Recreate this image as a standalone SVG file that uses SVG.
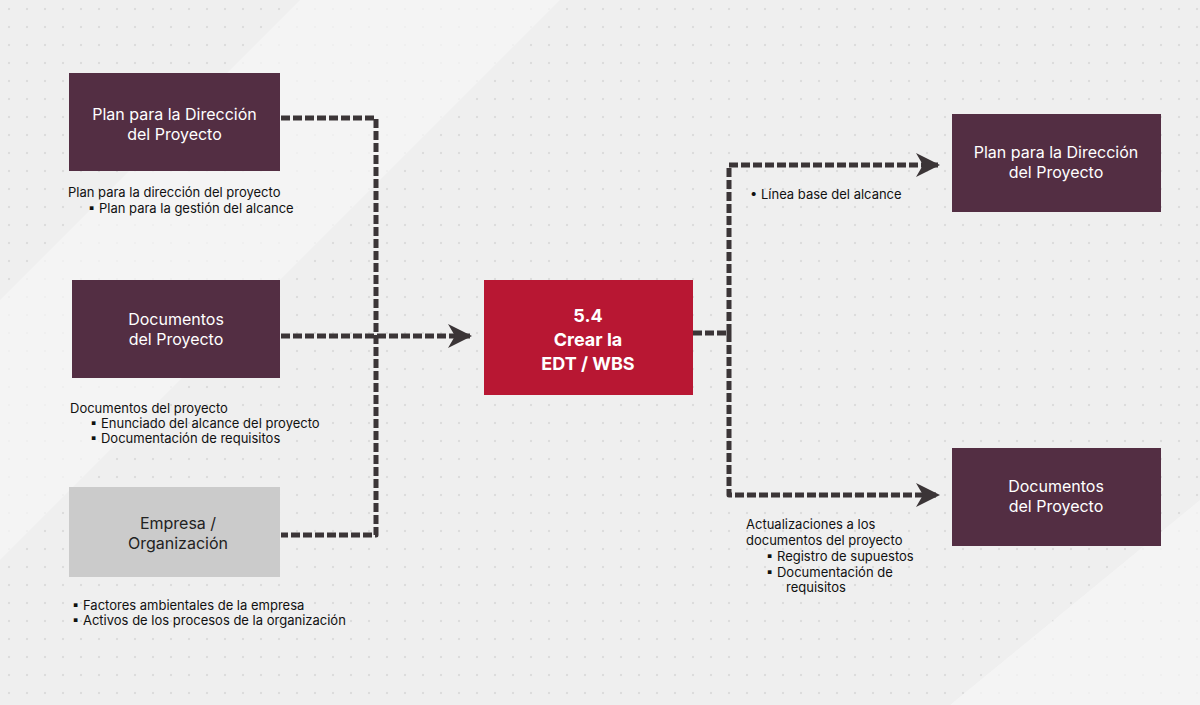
<svg xmlns="http://www.w3.org/2000/svg" width="1200" height="705" viewBox="0 0 1200 705">
<style>
.n{fill:#532e43}
.t{font-family:"Inter","Liberation Sans",sans-serif;fill:#fff;font-size:16px;text-anchor:middle}
.s{font-family:"Inter","Liberation Sans",sans-serif;fill:#111;font-size:13px}
.c{fill:none;stroke:#3b3537;stroke-width:5;stroke-dasharray:9 3;stroke-linejoin:round}
</style>
<defs>
<pattern id="dots" width="18" height="18" patternUnits="userSpaceOnUse"><circle cx="9" cy="9" r="1.2" fill="#dcdcdc"/></pattern>
<marker id="ah" markerWidth="10" markerHeight="10" refX="8" refY="5" orient="auto" markerUnits="userSpaceOnUse" viewBox="0 0 10 10"><path d="M0,0 L10,5 L0,10 L3,5 Z" fill="#3b3537"/></marker>
<marker id="a" viewBox="0 0 24 24" markerWidth="24" markerHeight="24" refX="22" refY="12" orient="auto" markerUnits="userSpaceOnUse"><path d="M0,0 L24,12 L0,24 L7,12 Z" fill="#3b3537"/></marker>
</defs>
<rect width="1200" height="705" fill="#efefef"/>
<rect width="1200" height="705" fill="url(#dots)"/>
<polygon points="300,0 560,0 0,560 0,300" fill="#f7f7f7" opacity="0.7"/>
<polygon points="1200,500 1200,705 950,705" fill="#f7f7f7" opacity="0.7"/>
<g id="connectors">
<path class="c" d="M281,118 H376 V535 H281"/>
<path class="c" d="M281,336 H470" marker-end="url(#a)"/>
<path class="c" d="M693,333 H729"/>
<path class="c" d="M729,333 V165 H938" marker-end="url(#a)"/>
<path class="c" d="M729,333 V495 H938" marker-end="url(#a)"/>
</g>
<g id="n1"><rect class="n" x="69" y="73" width="211" height="98"/><text class="t" x="174.5" y="120">Plan para la Dirección</text><text class="t" x="174.5" y="140">del Proyecto</text></g>
<g id="l1"><text class="s" x="68" y="197">Plan para la dirección del proyecto</text><text class="s" x="88" y="213">▪   Plan para la gestión del alcance</text></g>
<g id="n2"><rect class="n" x="72" y="280" width="208" height="98"/><text class="t" x="176" y="325">Documentos</text><text class="t" x="176" y="345">del Proyecto</text></g>
<g id="l2"><text class="s" x="70" y="413">Documentos del proyecto</text><text class="s" x="90" y="428">▪   Enunciado del alcance del proyecto</text><text class="s" x="90" y="443">▪   Documentación de requisitos</text></g>
<g id="n3"><rect x="69" y="487" width="211" height="90" fill="#cbcbcb"/><text class="t" style="fill:#222" x="178" y="529">Empresa /</text><text class="t" style="fill:#222" x="178" y="549">Organización</text></g>
<g id="l3"><text class="s" x="72" y="610">▪   Factores ambientales de la empresa</text><text class="s" x="72" y="625">▪   Activos de los procesos de la organización</text></g>
<g id="center"><rect x="484" y="280" width="209" height="115" fill="#b81733"/><text class="t" style="font-weight:bold;font-size:18px" x="588" y="322">5.4</text><text class="t" style="font-weight:bold;font-size:18px" x="588" y="346">Crear la</text><text class="t" style="font-weight:bold;font-size:18px" x="588" y="370">EDT / WBS</text></g>
<g id="r1"><rect class="n" x="952" y="114" width="209" height="98"/><text class="t" x="1056" y="158">Plan para la Dirección</text><text class="t" x="1056" y="178">del Proyecto</text></g>
<g id="lr1"><text class="s" x="750" y="199">•    Línea base del alcance</text></g>
<g id="r2"><rect class="n" x="952" y="448" width="209" height="98"/><text class="t" x="1056" y="492">Documentos</text><text class="t" x="1056" y="512">del Proyecto</text></g>
<g id="lr2"><text class="s" x="746" y="529">Actualizaciones a los</text><text class="s" x="746" y="545">documentos del proyecto</text><text class="s" x="766" y="561">▪   Registro de supuestos</text><text class="s" x="766" y="577">▪   Documentación de</text><text class="s" x="786" y="592">requisitos</text></g>
</svg>
